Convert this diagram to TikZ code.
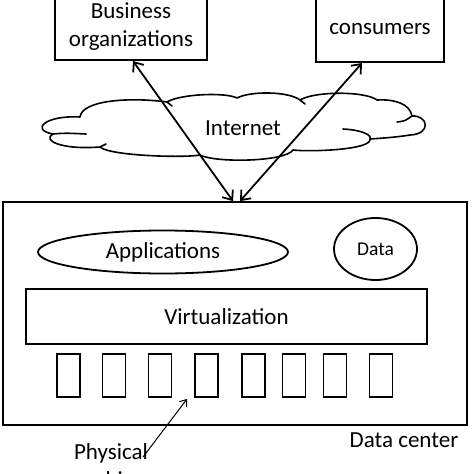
\documentclass[tikz,border=0pt]{standalone}
\usepackage{fontspec}
\setmainfont{Carlito}
\usetikzlibrary{arrows.meta,shapes.geometric,calc}
\tikzset{
  boxline/.style={draw=black,line width=1.8pt},
  txt/.style={font=\fontsize{23}{28}\selectfont,text=black},
  cloudline/.style={draw=black,line width=1.6pt,line join=round,line cap=round},
  bigarrow/.style={draw=black,line width=1.8pt,{Straight Barb[length=8pt,width=13pt,line width=1.8pt]}-{Straight Barb[length=8pt,width=13pt,line width=1.8pt]}},
  thinarrow/.style={draw=black,line width=1pt,-{Straight Barb[length=6pt,width=9pt,line width=1pt]}},
  machine/.style={boxline,rectangle,minimum width=23pt,minimum height=43pt,inner sep=0pt}
}
\begin{document}
\begin{tikzpicture}[x=1pt,y=-1pt]
\useasboundingbox (0,0) rectangle (474,474);
\clip (0,0) rectangle (474,474);
\fill[white] (0,0) rectangle (474,474);
% top boxes
\node[boxline,txt,rectangle,align=center,minimum width=152pt,inner ysep=10pt,anchor=south] (business) at (131,61) {Business\\organizations};
\node[boxline,txt,rectangle,minimum width=128pt,minimum height=90pt,text height=34pt,text depth=0pt,anchor=south] (consumers) at (380,63) {consumers};
% cloud
\draw[cloudline] (80,117) .. controls (82,100) and (130,97) .. (167,102)
  .. controls (180,94) and (225,92) .. (237,98)
  .. controls (250,91) and (288,91) .. (300,100)
  .. controls (315,91) and (365,91) .. (377,100)
  .. controls (395,99) and (410,104) .. (412,116)
  .. controls (428,115) and (432,134) .. (410,135)
  .. controls (398,137) and (385,138) .. (370,139)
  .. controls (372,150) and (310,152) .. (293,150)
  .. controls (285,162) and (215,163) .. (200,155)
  .. controls (185,158) and (110,156) .. (100,147)
  .. controls (60,150) and (42,140) .. (53,134)
  .. controls (30,130) and (45,115) .. (80,117) -- cycle;
\draw[cloudline] (53,134) .. controls (65,133) .. (86,134);
\draw[cloudline] (343,129) .. controls (362,130) and (372,135) .. (370,139);
\draw[cloudline] (397,122) .. controls (405,121) .. (412,116);
\draw[cloudline] (167,102) -- (172,106);
\draw[cloudline] (100,147) -- (106,144);
\draw[cloudline] (300,100) -- (305,104);
\node[txt] (internet) at (243,128) {Internet};
% data center
\node[boxline,rectangle,minimum width=464pt,minimum height=223pt,inner sep=0pt] (dc) at (235,313.5) {};
\node[boxline,txt,ellipse,minimum width=250pt,minimum height=43pt,inner sep=0pt] (apps) at (163,252) {Applications};
\node[boxline,ellipse,minimum width=83pt,minimum height=62pt,inner sep=0pt,font=\fontsize{19.5}{23}\selectfont] (data) at (375.5,249) {Data};
\node[boxline,txt,rectangle,minimum width=401pt,minimum height=55pt,inner sep=0pt] (virt) at (226.5,316.5) {Virtualization};
\node[machine] (m1) at (68.5,375.5) {};
\node[machine] (m2) at (114,375.5) {};
\node[machine] (m3) at (160,375.5) {};
\node[machine] (m4) at (206.5,375.5) {};
\node[machine] (m5) at (253.5,375.5) {};
\node[machine] (m6) at (294,375.5) {};
\node[machine] (m7) at (335,375.5) {};
\node[machine] (m8) at (381,375.5) {};
\node[txt,anchor=base] (dclabel) at (404,447) {Data center};
\node[txt,align=center,anchor=base] (phys) at (111,487) {Physical\\machines};
% connectors
\draw[bigarrow] ([xshift=2pt]business.south) -- ([xshift=-2pt]dc.north);
\draw[bigarrow] ([xshift=-18pt]consumers.south) -- ([xshift=5pt]dc.north);
\coordinate (ptail) at (143,457);
\draw[thinarrow] (ptail) -- ($(m4.south west)+(-7,1)$);
\end{tikzpicture}
\end{document}
